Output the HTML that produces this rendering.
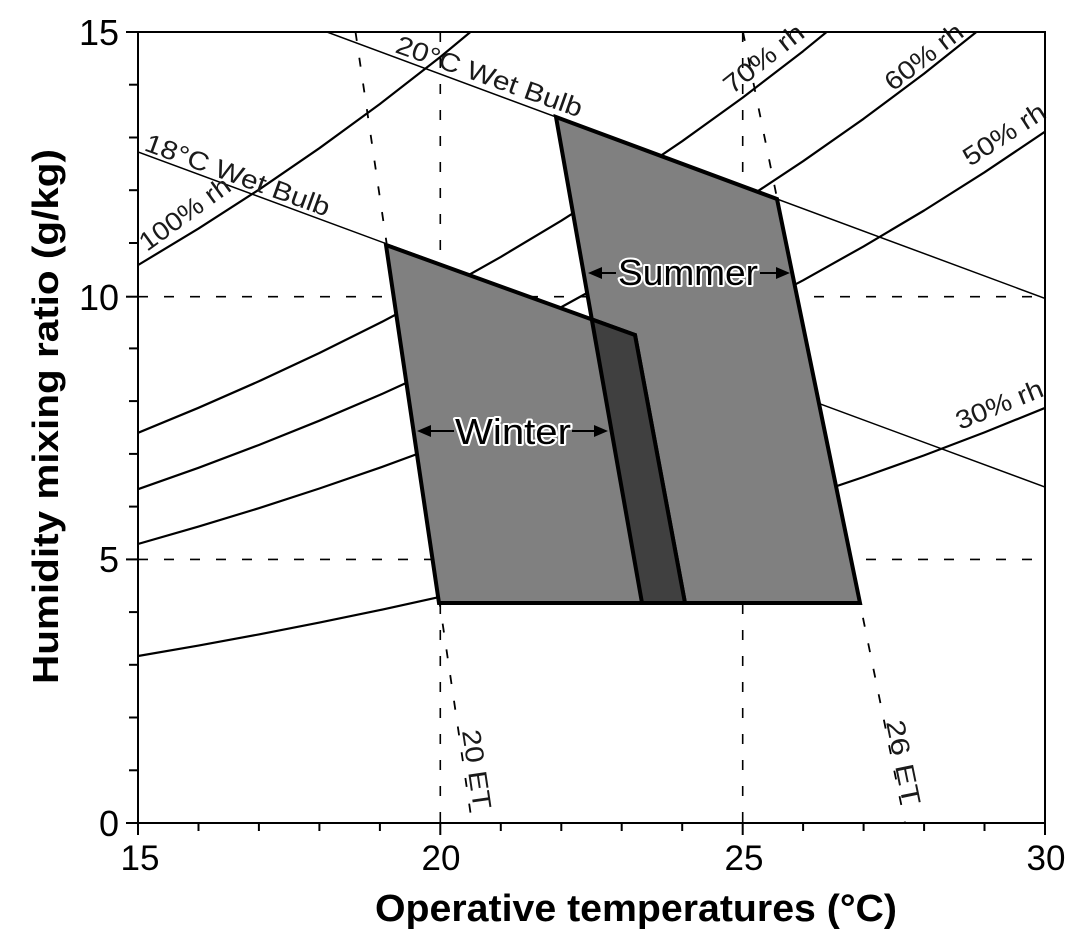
<!DOCTYPE html>
<html>
<head>
<meta charset="utf-8">
<style>
  html, body { margin:0; padding:0; background:#fff; }
  svg { display:block; }
  text { font-family: "Liberation Sans", Arial, sans-serif; }
</style>
</head>
<body>
<svg width="1065" height="935" viewBox="0 0 1065 935" xmlns="http://www.w3.org/2000/svg">
  <defs>
    <clipPath id="plot">
      <rect x="138" y="32" width="907" height="791"/>
    </clipPath>
  </defs>
  <rect x="0" y="0" width="1065" height="935" fill="#fff"/>

  <g clip-path="url(#plot)">
    <!-- dashed grid -->
    <g stroke="#000" stroke-width="1.6" stroke-dasharray="10 16" fill="none">
      <line x1="440.3" y1="32" x2="440.3" y2="823"/>
      <line x1="742.7" y1="32" x2="742.7" y2="823"/>
      <line x1="138" y1="296.7" x2="1045" y2="296.7"/>
      <line x1="138" y1="559.4" x2="1045" y2="559.4"/>
    </g>
    <!-- ET dashed lines -->
    <g stroke="#000" stroke-width="1.8" stroke-dasharray="9 17" fill="none">
      <line x1="355.5" y1="32" x2="472" y2="823"/>
      <line x1="743" y1="32" x2="905" y2="823"/>
    </g>

    <!-- RH curves -->
    <g stroke="#000" stroke-width="2.2" fill="none" stroke-linejoin="round">
      <polyline points="138,265.1 198.5,228.6 258.9,189.7 319.4,148.2 379.9,104.0 440.3,57.0 500.8,6.8"/>
      <polyline points="138,432.8 198.5,407.8 258.9,381.3 319.4,353.0 379.9,322.9 440.3,291.0 500.8,256.9 561.3,220.7 621.7,182.2 682.2,141.2 742.7,97.6 803.1,51.2 863.6,1.8"/>
      <polyline points="138,489.2 198.5,467.8 258.9,445.0 319.4,420.7 379.9,394.9 440.3,367.4 500.8,338.2 561.3,307.1 621.7,273.9 682.2,238.7 742.7,201.2 803.1,161.2 863.6,118.8 924.1,73.6 984.5,25.5"/>
      <polyline points="138,544.0 198.5,526.6 258.9,508.2 319.4,488.5 379.9,467.7 440.3,445.5 500.8,422.0 561.3,396.9 621.7,370.3 682.2,342.1 742.7,312.1 803.1,280.3 863.6,246.4 924.1,210.5 984.5,172.3 1045,131.7"/>
      <polyline points="138,656.0 198.5,645.6 258.9,634.4 319.4,622.6 379.9,610.1 440.3,596.8 500.8,582.6 561.3,567.6 621.7,551.6 682.2,534.6 742.7,516.6 803.1,497.4 863.6,477.0 924.1,455.4 984.5,432.4 1045,407.9"/>
    </g>

    <!-- Wet bulb lines -->
    <g stroke="#000" stroke-width="1.5" fill="none">
      <line x1="138" y1="152" x2="1045" y2="487"/>
      <line x1="327" y1="32" x2="1045" y2="298.4"/>
    </g>

    <!-- Polygons -->
    <g stroke="#000" stroke-width="4" stroke-linejoin="miter">
      <polygon points="556,117 777,199 860,603 642,603" fill="#808080"/>
      <polygon points="386,245 635,335 685,603 439,603" fill="#808080"/>
      <polygon points="591.8,319.4 635,335 685,603 642,603" fill="#404040"/>
    </g>
  </g>

  <!-- Annotation labels -->
  <g fill="#1a1a1a" font-size="26">
    <text x="394" y="52" transform="rotate(19.5 394 52)" textLength="196" lengthAdjust="spacingAndGlyphs">20°C Wet Bulb</text>
    <text x="143" y="150" transform="rotate(20 143 150)" textLength="195" lengthAdjust="spacingAndGlyphs">18°C Wet Bulb</text>
    <text x="147" y="252" transform="rotate(-36 147 252)" textLength="106" lengthAdjust="spacingAndGlyphs">100% rh</text>
    <text x="732" y="95" transform="rotate(-38.5 732 95)" textLength="95" lengthAdjust="spacingAndGlyphs">70% rh</text>
    <text x="893" y="92" transform="rotate(-38 893 92)" textLength="92" lengthAdjust="spacingAndGlyphs">60% rh</text>
    <text x="970" y="167" transform="rotate(-33 970 167)" textLength="93" lengthAdjust="spacingAndGlyphs">50% rh</text>
    <text x="960" y="430" transform="rotate(-22 960 430)" textLength="92" lengthAdjust="spacingAndGlyphs">30% rh</text>
    <text x="462" y="731" transform="rotate(81.55 462 731)" textLength="80" lengthAdjust="spacingAndGlyphs">20 ET</text>
    <text x="886" y="722" transform="rotate(78.4 886 722)" textLength="86" lengthAdjust="spacingAndGlyphs">26 ET</text>
  </g>

  <!-- Summer / Winter labels with arrows -->
  <g stroke="#000" stroke-width="2" fill="#000">
    <line x1="600" y1="273" x2="616" y2="273"/>
    <polygon points="588,273 602,267 602,279" stroke="none"/>
    <line x1="760" y1="273" x2="778" y2="273"/>
    <polygon points="790,273 776,267 776,279" stroke="none"/>
    <line x1="429" y1="431" x2="454" y2="431"/>
    <polygon points="417,431 431,425 431,437" stroke="none"/>
    <line x1="572" y1="431" x2="596" y2="431"/>
    <polygon points="608,431 594,425 594,437" stroke="none"/>
  </g>
  <g font-size="36" fill="#000" stroke="#fff" stroke-width="4" paint-order="stroke" stroke-linejoin="round">
    <text x="688" y="285" text-anchor="middle" textLength="140" lengthAdjust="spacingAndGlyphs">Summer</text>
    <text x="513" y="444" text-anchor="middle" textLength="116" lengthAdjust="spacingAndGlyphs">Winter</text>
  </g>

  <!-- Axes box -->
  <rect x="138" y="32" width="907" height="791" fill="none" stroke="#000" stroke-width="2"/>

  <!-- Y ticks -->
  <g stroke="#000" stroke-width="2">
    <line x1="126" y1="32" x2="138" y2="32"/>
    <line x1="129" y1="84.7" x2="138" y2="84.7"/>
    <line x1="129" y1="137.5" x2="138" y2="137.5"/>
    <line x1="129" y1="190.2" x2="138" y2="190.2"/>
    <line x1="129" y1="243.0" x2="138" y2="243.0"/>
    <line x1="126" y1="296.7" x2="138" y2="296.7"/>
    <line x1="129" y1="348.4" x2="138" y2="348.4"/>
    <line x1="129" y1="401.1" x2="138" y2="401.1"/>
    <line x1="129" y1="453.9" x2="138" y2="453.9"/>
    <line x1="129" y1="506.6" x2="138" y2="506.6"/>
    <line x1="126" y1="559.4" x2="138" y2="559.4"/>
    <line x1="129" y1="612.1" x2="138" y2="612.1"/>
    <line x1="129" y1="664.8" x2="138" y2="664.8"/>
    <line x1="129" y1="717.5" x2="138" y2="717.5"/>
    <line x1="129" y1="770.3" x2="138" y2="770.3"/>
    <line x1="126" y1="823" x2="138" y2="823"/>
  </g>
  <!-- X ticks -->
  <g stroke="#000" stroke-width="2">
    <line x1="138" y1="823" x2="138" y2="835"/>
    <line x1="198.5" y1="823" x2="198.5" y2="831"/>
    <line x1="258.9" y1="823" x2="258.9" y2="831"/>
    <line x1="319.4" y1="823" x2="319.4" y2="831"/>
    <line x1="379.9" y1="823" x2="379.9" y2="831"/>
    <line x1="440.3" y1="823" x2="440.3" y2="835"/>
    <line x1="500.8" y1="823" x2="500.8" y2="831"/>
    <line x1="561.3" y1="823" x2="561.3" y2="831"/>
    <line x1="621.7" y1="823" x2="621.7" y2="831"/>
    <line x1="682.2" y1="823" x2="682.2" y2="831"/>
    <line x1="742.7" y1="823" x2="742.7" y2="835"/>
    <line x1="803.1" y1="823" x2="803.1" y2="831"/>
    <line x1="863.6" y1="823" x2="863.6" y2="831"/>
    <line x1="924.1" y1="823" x2="924.1" y2="831"/>
    <line x1="984.5" y1="823" x2="984.5" y2="831"/>
    <line x1="1045" y1="823" x2="1045" y2="835"/>
  </g>

  <!-- Tick labels -->
  <g font-size="36" fill="#000" text-anchor="end">
    <text x="119" y="45">15</text>
    <text x="119" y="310">10</text>
    <text x="119" y="572">5</text>
    <text x="119" y="836">0</text>
  </g>
  <g font-size="35" fill="#000" text-anchor="middle">
    <text x="140" y="870">15</text>
    <text x="441" y="870">20</text>
    <text x="744" y="870">25</text>
    <text x="1046" y="870">30</text>
  </g>

  <!-- Axis titles -->
  <text x="636" y="921" font-size="38" font-weight="bold" text-anchor="middle" textLength="522" lengthAdjust="spacingAndGlyphs">Operative temperatures (°C)</text>
  <text x="0" y="0" transform="translate(58 416.5) rotate(-90)" font-size="36" font-weight="bold" text-anchor="middle" textLength="535" lengthAdjust="spacingAndGlyphs">Humidity mixing ratio (g/kg)</text>
</svg>
</body>
</html>
